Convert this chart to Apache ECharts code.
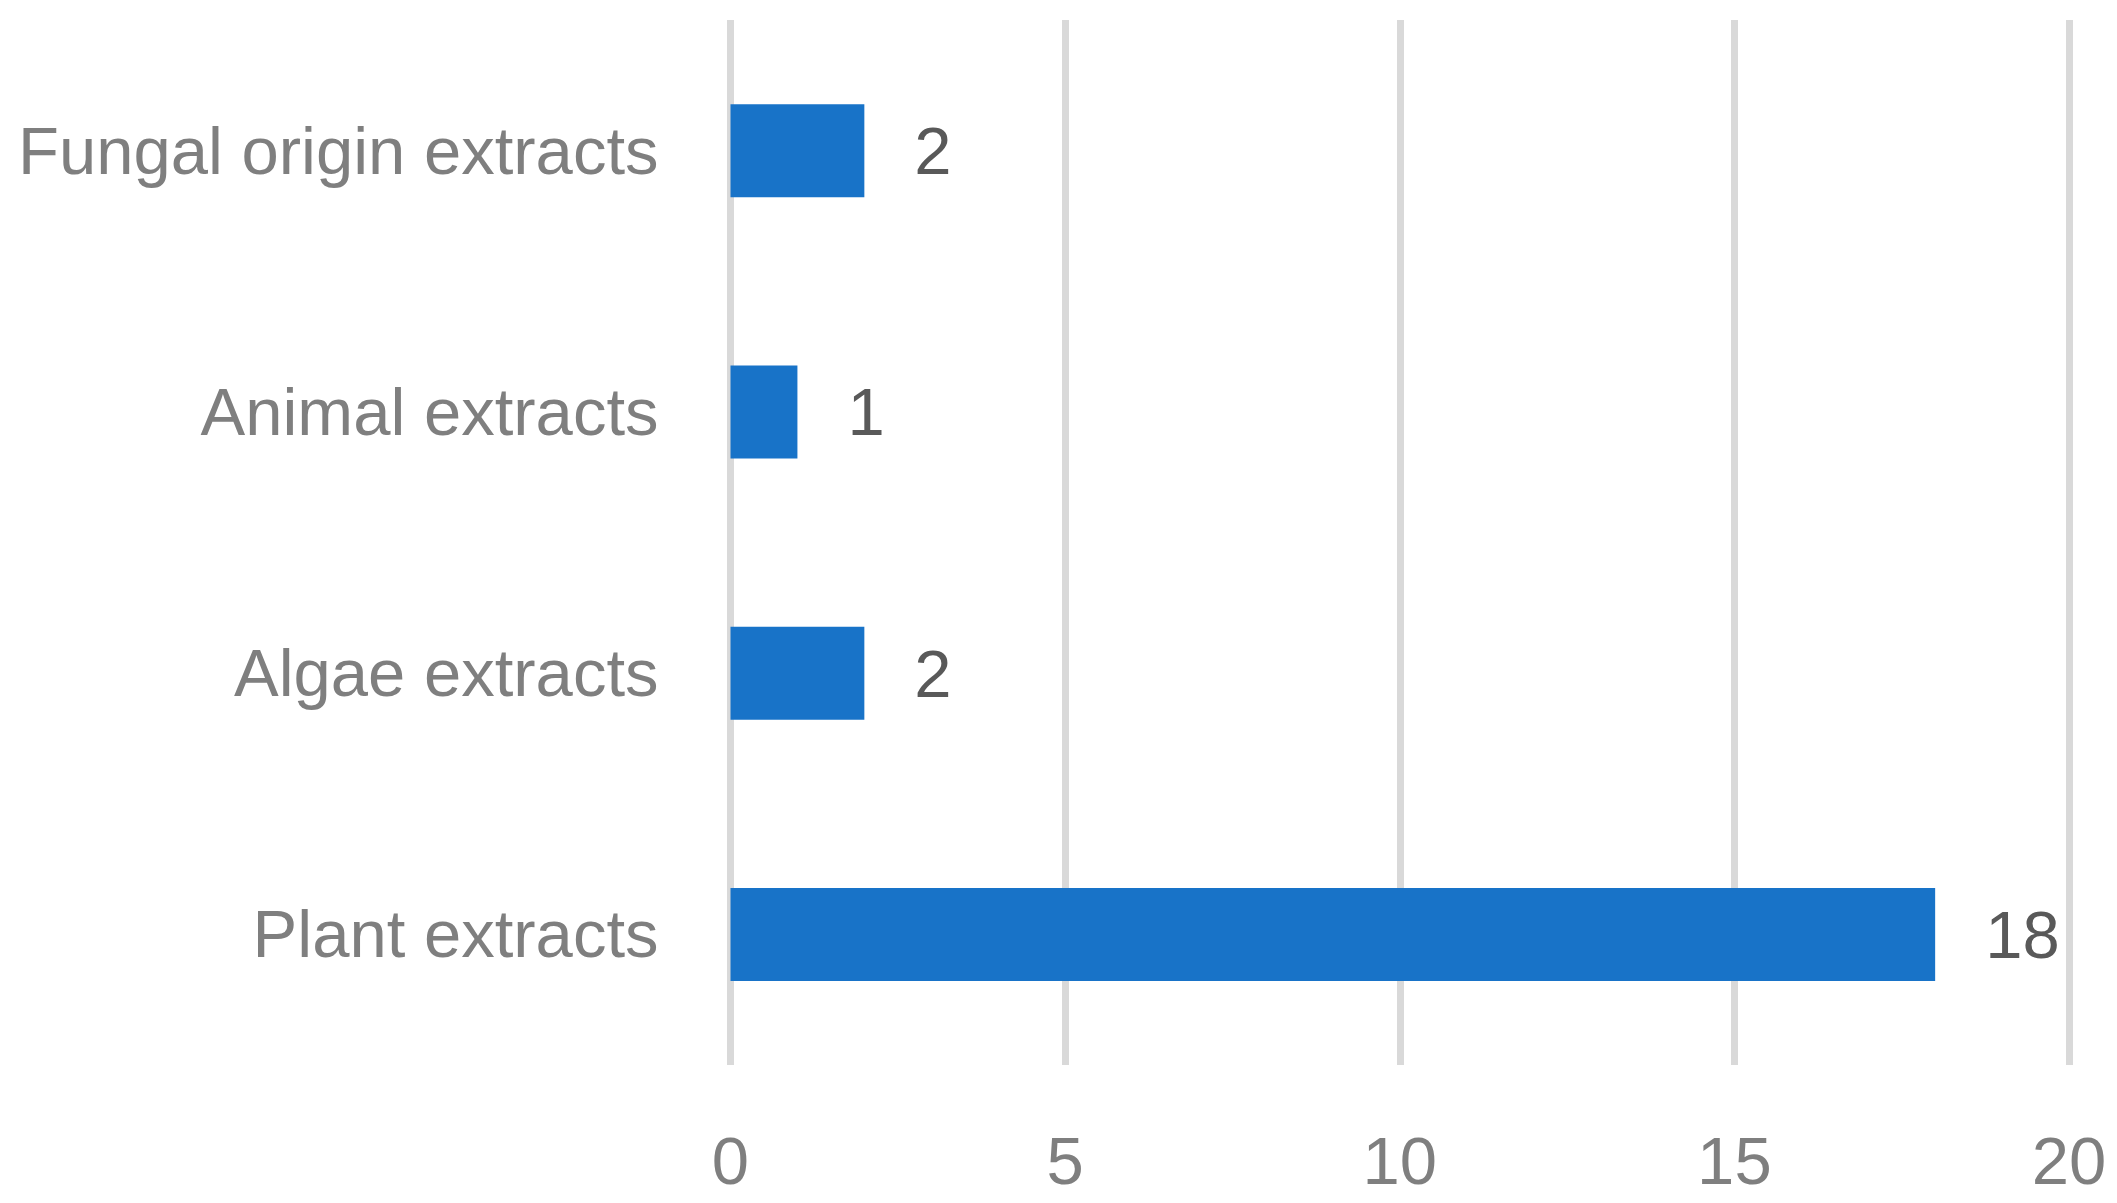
<!DOCTYPE html>
<html>
<head>
<meta charset="utf-8">
<script src="https://cdn.jsdelivr.net/npm/echarts@6/dist/echarts.min.js"></script>
<style>
html,body{margin:0;padding:0;background:#fff;}
#chart{width:2117px;height:1203px;}
</style>
</head>
<body>
<div id="chart"></div>
<script>
const categories = ['Plant extracts', 'Algae extracts', 'Animal extracts', 'Fungal origin extracts'];
const values = [18, 2, 1, 2];
const axisMin = 0;
const axisMax = 20;
const axisStep = 5;

const chart = echarts.init(document.getElementById('chart'), null, {renderer: 'canvas'});
chart.setOption({
  backgroundColor: '#ffffff',
  animation: false,
  grid: {left: 730.5, right: 48, top: 20, bottom: 138, containLabel: false},
  xAxis: {
    type: 'value',
    min: axisMin,
    max: axisMax,
    interval: axisStep,
    axisLine: {show: false},
    axisTick: {show: false},
    axisLabel: {
      margin: 67,
      color: '#7f7f7f',
      fontFamily: 'Liberation Sans',
      fontSize: 67
    },
    splitLine: {show: true, lineStyle: {color: '#d9d9d9', width: 7}}
  },
  yAxis: {
    type: 'category',
    data: categories,
    axisLine: {show: false},
    axisTick: {show: false},
    axisLabel: {
      margin: 72,
      formatter: function (v) { return '{a|' + v + '}'; },
      rich: {
        a: {
          color: '#7f7f7f',
          fontFamily: 'Liberation Sans',
          fontSize: 67,
          padding: [9, 0, 0, 0]
        }
      }
    }
  },
  series: [{
    type: 'bar',
    data: values,
    barWidth: 93,
    itemStyle: {color: '#1873c8'},
    label: {
      show: true,
      position: 'right',
      distance: 50,
      offset: [0, 5],
      color: '#595959',
      fontFamily: 'Liberation Sans',
      fontSize: 67
    }
  }]
});
</script>
</body>
</html>
